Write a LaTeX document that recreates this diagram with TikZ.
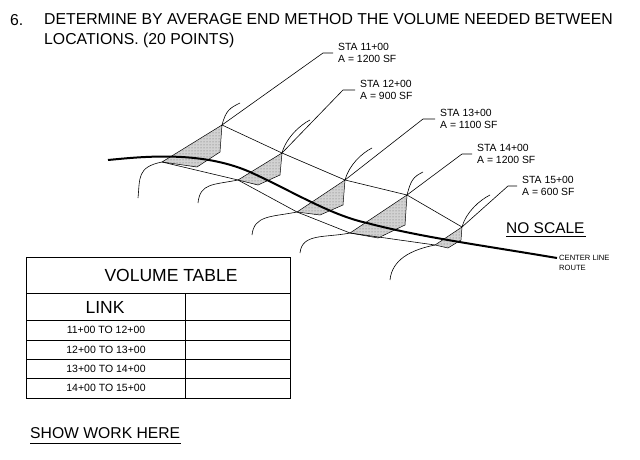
\documentclass[tikz,border=0pt]{standalone}
\usepackage{fontspec}
\setmainfont{Liberation Sans}
\usetikzlibrary{patterns,calc}
\begin{document}
\begin{tikzpicture}[x=1pt,y=-1pt,
  thin/.style={line width=0.6pt},
  lbl/.style={anchor=west,inner sep=0,font=\fontsize{10.4}{12}\selectfont,align=left},
  row/.style={font=\fontsize{10.5}{12}\selectfont,inner sep=0}]
\useasboundingbox (0,0) rectangle (640,460);
\node[anchor=west,inner sep=0,font=\fontsize{15.8}{20}\selectfont] (num) at (10,20) {6.};
\node[anchor=north west,inner sep=0,font=\fontsize{15.8}{20}\selectfont,align=left] (title) at (44,13)
 {DETERMINE BY AVERAGE END METHOD THE VOLUME NEEDED BETWEEN\\LOCATIONS. (20 POINTS)};
% sections: T, right, bottom, left
\foreach \i/\tx/\ty/\rx/\ry/\bx/\by/\lx/\ly in {
 1/222/125/220/152/197/167/162/162,
 2/282/153/280/175/258/185/238/180,
 3/345/180/343/205/320/215/297/212,
 4/407/195/405/225/378/238/350/233,
 5/462/227/461/240/448/248/435/245}{
 \coordinate (T\i) at (\tx,\ty);
 \coordinate (L\i) at (\lx,\ly);
 \fill[gray!35] (T\i) -- (\rx,\ry) -- (\bx,\by) -- (L\i) -- cycle;
 \fill[pattern=dots,pattern color=gray!80!black] (T\i) -- (\rx,\ry) -- (\bx,\by) -- (L\i) -- cycle;
 \draw[line width=0.5pt] (T\i) -- (\rx,\ry) -- (\bx,\by) -- (L\i) -- cycle;
}
\draw[thin] (T1) -- (T2) -- (T3) -- (T4) -- (T5);
\draw[thin] (L1) -- (L2) -- (L3) -- (L4) -- (L5);
% terrain curves
\foreach \i/\ax/\ay/\ux/\uy in {1/138/198/240/103, 2/198/203/310/120, 3/252/235/372/148, 4/300/253/423/172, 5/390/280/490/195}{
 \coordinate (A\i) at (\ax,\ay);
 \coordinate (U\i) at (\ux,\uy);
 \draw[thin] (A\i) .. controls ($(A\i)+(2,-20)$) and ($(L\i)+(-25,5)$) .. (L\i);
 \draw[thin] (T\i) .. controls ($(T\i)+(4,-15)$) and ($(U\i)+(-10,5)$) .. (U\i);
}
% centre line
\coordinate (C0) at (108,160);
\coordinate (C9) at (557,258);
\draw[line width=2pt] (C0) .. controls (140,157) and (200,150) .. (250,172)
  .. controls (290,190) and (330,215) .. (367,223)
  .. controls (420,237) and (480,245) .. (C9);
\node[anchor=west,inner sep=0,font=\fontsize{7.6}{10}\selectfont,align=left] (cl) at (559,263) {CENTER LINE\\ROUTE};
% leaders and labels
\foreach \i/\px/\py/\hx/\la/\lb in {1/323/53/333/{STA 11+00}/{A = 1200 SF}, 2/343/90/355/{STA 12+00}/{A = 900 SF}, 3/423/119/435/{STA 13+00}/{A = 1100 SF}, 4/462/154/472/{STA 14+00}/{A = 1200 SF}, 5/508/186/517/{STA 15+00}/{A = 600 SF}}{
 \coordinate (P\i) at (\px,\py);
 \coordinate (H\i) at (\hx,\py);
 \draw[thin] (T\i) -- (P\i) -- (H\i);
 \node[lbl] (S\i) at ($(H\i)+(5,6)$) {\lb};
 \node[lbl] (N\i) at ($(H\i)+(5,-6)$) {\la};
}
\node[anchor=west,inner sep=0,font=\fontsize{15.5}{18}\selectfont] (ns) at (506,228) {NO SCALE};
\draw[line width=0.8pt] ($(ns.south west)+(0,3)$) -- ++(80,0);
% table
\draw[thin] (26,257) rectangle (290,398);
\foreach \y in {293,320,340,359,378}{\draw[thin] (26,\y) -- (290,\y);}
\draw[thin] (185,293) -- (185,398);
\node[font=\fontsize{17.5}{20}\selectfont] (vt) at (171,275) {VOLUME TABLE};
\node[font=\fontsize{17.5}{20}\selectfont] (lk) at (105,307) {LINK};
\node[row] (r1) at (106,330) {11+00 TO 12+00};
\node[row] (r2) at (106,350) {12+00 TO 13+00};
\node[row] (r3) at (106,369) {13+00 TO 14+00};
\node[row] (r4) at (106,388) {14+00 TO 15+00};
\node[anchor=west,inner sep=0,font=\fontsize{15.7}{18}\selectfont] (sw) at (30,433) {SHOW WORK HERE};
\draw[line width=0.8pt] (30,443) -- (181,443);
\end{tikzpicture}
\end{document}
